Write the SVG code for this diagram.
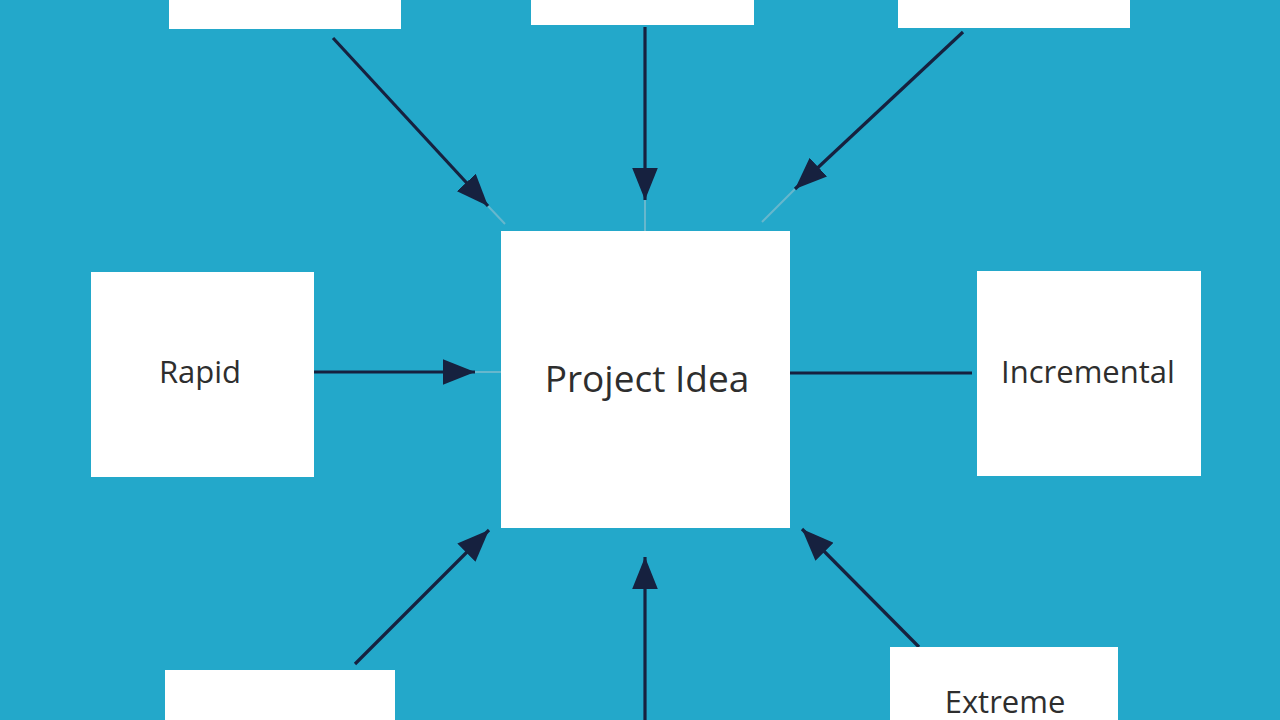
<svg xmlns="http://www.w3.org/2000/svg" width="1280" height="720" viewBox="0 0 1280 720">
  <defs>
    <marker id="arrow" viewBox="0 0 10 8" refX="10" refY="4" markerWidth="10" markerHeight="8" markerUnits="strokeWidth" orient="auto">
      <path d="M0,0 L10,4 L0,8 Z" fill="#16213f"/>
    </marker>
    <style>
      .box { fill: #ffffff; }
      .label { font-family: "Open Sans", "Noto Sans", "Liberation Sans", sans-serif; fill: #2e2e2e; text-anchor: middle; }
      .conn { stroke: #16213f; stroke-width: 3.2; fill: none; }
      .tail { stroke: #9fc2cf; stroke-width: 2; fill: none; opacity: 0.55; }
    </style>
  </defs>
  <rect x="0" y="0" width="1280" height="720" fill="#23a8ca"/>

  <g id="connectors">
    <line class="tail" x1="488" y1="206" x2="505" y2="224"/>
    <line class="conn" x1="333" y1="38" x2="488" y2="206" marker-end="url(#arrow)"/>
    <line class="tail" x1="645" y1="200" x2="645" y2="231"/>
    <line class="conn" x1="645" y1="27" x2="645" y2="200" marker-end="url(#arrow)"/>
    <line class="tail" x1="795" y1="189" x2="762" y2="222"/>
    <line class="conn" x1="963" y1="32" x2="795" y2="189" marker-end="url(#arrow)"/>
    <line class="tail" x1="475" y1="372" x2="501" y2="372"/>
    <line class="conn" x1="314" y1="372" x2="475" y2="372" marker-end="url(#arrow)"/>
    <line class="conn" x1="790" y1="373" x2="972" y2="373"/>
    <line class="conn" x1="355" y1="664" x2="489" y2="530" marker-end="url(#arrow)"/>
    <line class="conn" x1="645" y1="720" x2="645" y2="557" marker-end="url(#arrow)"/>
    <line class="conn" x1="919" y1="647" x2="802" y2="529" marker-end="url(#arrow)"/>
  </g>

  <g id="node-top-left">
    <rect class="box" x="169" y="-176" width="232" height="205"/>
  </g>
  <g id="node-top-center">
    <rect class="box" x="531" y="-180" width="223" height="205"/>
  </g>
  <g id="node-top-right">
    <rect class="box" x="898" y="-177" width="232" height="205"/>
  </g>
  <g id="node-project-idea">
    <rect class="box" x="501" y="231" width="289" height="297"/>
    <text class="label" x="647" y="392" font-size="37">Project Idea</text>
  </g>
  <g id="node-rapid">
    <rect class="box" x="91" y="272" width="223" height="205"/>
    <text class="label" x="200" y="383" font-size="31">Rapid</text>
  </g>
  <g id="node-incremental">
    <rect class="box" x="977" y="271" width="224" height="205"/>
    <text class="label" x="1088" y="383" font-size="31">Incremental</text>
  </g>
  <g id="node-bottom-left">
    <rect class="box" x="165" y="670" width="230" height="205"/>
  </g>
  <g id="node-extreme">
    <rect class="box" x="890" y="647" width="228" height="205"/>
    <text class="label" x="1005" y="713" font-size="31">Extreme</text>
  </g>
</svg>
